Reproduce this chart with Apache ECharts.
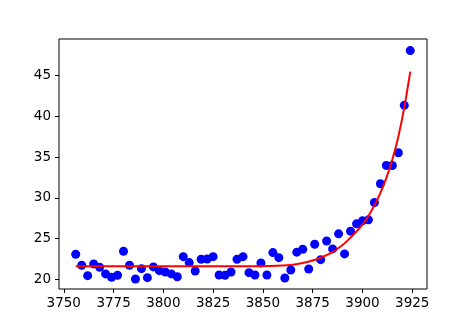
<!DOCTYPE html>
<html>
<head>
<meta charset="utf-8">
<script src="https://cdn.jsdelivr.net/npm/echarts@6/dist/echarts.min.js"></script>
<style>
	html, body { margin: 0; padding: 0; background: #fff; }
	#chart { width: 474px; height: 326px; }
</style>
</head>
<body>
<div id="chart"></div>
<script>
	// measured points (x, y)
	var xs = [3756, 3759, 3762, 3765, 3768, 3771, 3774, 3777, 3780, 3783,
		3786, 3789, 3792, 3795, 3798, 3801, 3804, 3807, 3810, 3813,
		3816, 3819, 3822, 3825, 3828, 3831, 3834, 3837, 3840, 3843,
		3846, 3849, 3852, 3855, 3858, 3861, 3864, 3867, 3870, 3873,
		3876, 3879, 3882, 3885, 3888, 3891, 3894, 3897, 3900, 3903,
		3906, 3909, 3912, 3915, 3918, 3921, 3924]
	var ys = [23.07, 21.72, 20.44, 21.88, 21.47, 20.65, 20.24, 20.49, 23.44, 21.72,
		20.03, 21.30, 20.19, 21.51, 21.05, 20.89, 20.65, 20.31, 22.77, 22.04,
		21.01, 22.45, 22.49, 22.77, 20.52, 20.49, 20.89, 22.45, 22.77, 20.81,
		20.52, 22.00, 20.52, 23.27, 22.65, 20.15, 21.14, 23.32, 23.68, 21.26,
		24.30, 22.40, 24.70, 23.72, 25.57, 23.11, 25.90, 26.80, 27.17, 27.29,
		29.42, 31.72, 33.97, 33.97, 35.53, 41.35, 48.08]

	// fitted curve
	var fitX = [3756, 3800, 3840, 3854, 3864, 3870, 3877, 3884, 3890, 3895,
		3900, 3904, 3908, 3912, 3915, 3918, 3921, 3924]
	var fitY = [21.6, 21.6, 21.6, 21.63, 21.75, 22.0, 22.45, 23.2, 24.2, 25.35,
		26.7, 28.2, 30.05, 32.45, 34.7, 37.5, 41.1, 45.5]

	var xTicks = [3750, 3775, 3800, 3825, 3850, 3875, 3900, 3925]
	var yTicks = [20, 25, 30, 35, 40, 45]

	var chart = echarts.init(document.getElementById('chart'))

	var font = 'DejaVu Sans'
	var tick = { show: true, inside: false, length: 4, lineStyle: { color: '#000', width: 1 } }

	function plain(v) { return String(v) }

	chart.setOption({
		animation: false,
		grid: {
			left: 59,
			right: 47,
			top: 39,
			bottom: 37,
			show: true,
			borderColor: '#000',
			borderWidth: 1,
			backgroundColor: 'transparent'
		},
		xAxis: {
			type: 'value',
			min: 3747.6,
			max: 3932.4,
			axisLine: { show: false },
			splitLine: { show: false },
			axisTick: Object.assign({}, tick, { customValues: xTicks }),
			axisLabel: {
				customValues: xTicks,
				formatter: plain,
				margin: 7,
				color: '#000',
				fontFamily: font,
				fontSize: 13.5
			}
		},
		yAxis: {
			type: 'value',
			min: 18.8,
			max: 49.5,
			axisLine: { show: false },
			splitLine: { show: false },
			axisTick: Object.assign({}, tick, { customValues: yTicks }),
			axisLabel: {
				customValues: yTicks,
				formatter: plain,
				margin: 8,
				color: '#000',
				fontFamily: font,
				fontSize: 13.5
			}
		},
		series: [
			{
				type: 'scatter',
				data: xs.map(function(x, i) { return [x, ys[i]] }),
				symbolSize: 9,
				itemStyle: { color: '#0000ff', opacity: 1 },
				z: 2
			},
			{
				type: 'line',
				data: fitX.map(function(x, i) { return [x, fitY[i]] }),
				showSymbol: false,
				smooth: 0.3,
				lineStyle: { color: '#ff0000', width: 2 },
				z: 3
			}
		]
	})
</script>
</body>
</html>
